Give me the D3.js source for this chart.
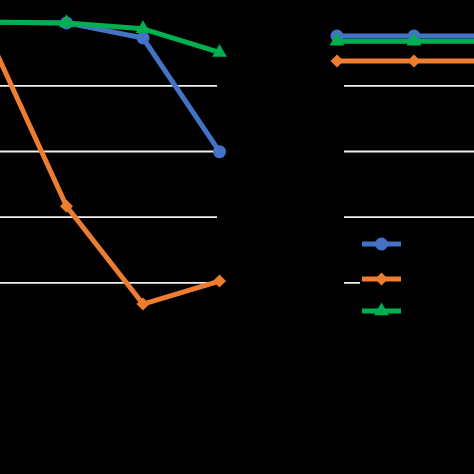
<!DOCTYPE html>
<html>
<head>
<meta charset="utf-8">
<script src="https://cdn.jsdelivr.net/npm/d3@7"></script>
<style>
body { margin: 0; background: #000; }
</style>
</head>
<body>
<div id="chart"></div>
<script>
// data
const leftCategories = ["1", "2", "3", "4"];
const leftBlue = [99.6, 99.5, 97.2, 79.9];
const leftOrange = [97.1, 71.6, 56.7, 60.2];
const leftGreen = [99.6, 99.5, 98.6, 95.0];

const rightCategories = ["1", "2", "3"];
const rightBlue = [97.5, 97.5, 97.5];
const rightOrange = [93.7, 93.7, 93.7];
const rightGreen = [96.7, 96.7, 96.7];

const gridValues = [60, 70, 80, 90];
const seriesNames = ["blue", "orange", "green"];

const width = 474, height = 474;
const colors = {blue: "#4472C4", orange: "#ED7D31", green: "#00B050"};

const svg = d3.select("#chart")
.append("svg")
.attr("width", width)
.attr("height", height)
.style("background", "#000");

// shared y scale
const y = d3.scaleLinear()
.domain([50, 100])
.range([348.1, 19.6]);

function marker(g, type, color) {
if (type === "blue") {
g.append("circle").attr("r", 6.5).attr("fill", color);
} else if (type === "orange") {
// square turned 45 degrees
g.append("path").attr("d", d3.symbol(d3.symbolSquare, 85)()).attr("transform", "rotate(45)").attr("fill", color);
} else {
g.append("path").attr("d", d3.symbol(d3.symbolTriangle, 95)()).attr("fill", color);
}
}

function panel(cats, series, xRange, gridRange) {
const x = d3.scalePoint()
.domain(cats)
.range(xRange);

// gridlines
const gx = svg.append("g")
.attr("transform", `translate(${gridRange[0]},0)`)
.call(d3.axisLeft(y).tickValues(gridValues).tickSize(-(gridRange[1] - gridRange[0])).tickFormat(""));
gx.select(".domain").remove();
gx.selectAll("line").attr("stroke", "#f0f0f0").attr("stroke-width", 1.8);

const line = d3.line()
.x((d, i) => x(cats[i]))
.y(d => y(d));

// draw order: orange, blue, green on top
["orange", "blue", "green"].forEach(name => {
const vals = series[name];
svg.append("path")
.datum(vals)
.attr("fill", "none")
.attr("stroke", colors[name])
.attr("stroke-width", 5)
.attr("stroke-linejoin", "round")
.attr("d", line);
svg.selectAll(null)
.data(vals)
.join("g")
.attr("transform", (d, i) => `translate(${x(cats[i])},${y(d)})`)
.each(function() { marker(d3.select(this), name, colors[name]); });
});
}

panel(leftCategories, {blue: leftBlue, orange: leftOrange, green: leftGreen}, [-10, 219.5], [0, 217]);
panel(rightCategories, {blue: rightBlue, orange: rightOrange, green: rightGreen}, [337, 491], [344, 474]);

// legend (text is black on black in the original)
svg.append("rect")
.attr("x", 360).attr("y", 228)
.attr("width", 114).attr("height", 98)
.attr("fill", "#000");

const legendY = [244, 279, 311];
const legend = svg.append("g")
.selectAll("g")
.data(seriesNames)
.join("g")
.attr("transform", (d, i) => `translate(362,${legendY[i]})`);

legend.append("line")
.attr("x1", 0).attr("x2", 39)
.attr("stroke", d => colors[d])
.attr("stroke-width", 5);

legend.each(function(d) {
const m = d3.select(this).append("g").attr("transform", "translate(19.5,0)");
marker(m, d, colors[d]);
});
</script>
</body>
</html>
